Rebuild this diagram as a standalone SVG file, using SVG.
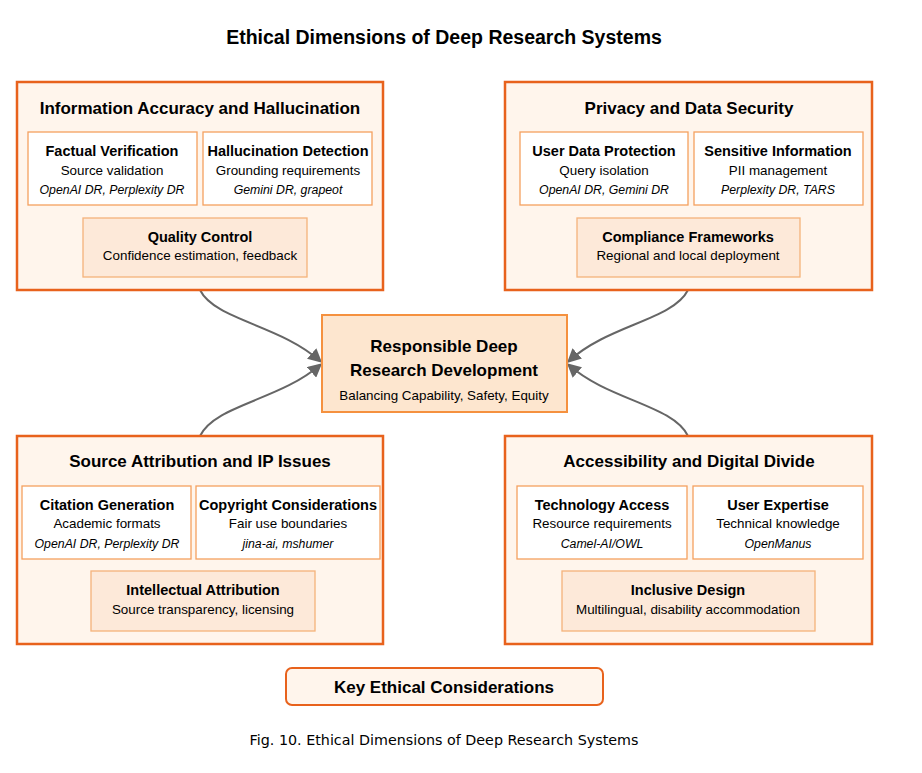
<svg xmlns="http://www.w3.org/2000/svg" width="922" height="773" viewBox="0 0 922 773">
<style>
text{font-family:"Liberation Sans",Arial,sans-serif;fill:#000;text-anchor:middle}
.outer{fill:#fff5ec;stroke:#e8621c;stroke-width:2.5}
.sub{fill:#fff;stroke:#f5a05f;stroke-width:1.3}
.sub2{fill:#fde9d9;stroke:#f5b27a;stroke-width:1.3}
.h{font-size:17px;font-weight:bold}
.t{font-size:14.5px;font-weight:bold}
.d{font-size:13.4px}
.i{font-size:12.3px;font-style:italic}
.c{fill:none;stroke:#666;stroke-width:2;marker-end:url(#a)}
</style>
<defs><marker id="a" viewBox="0 0 10 10" refX="8" refY="5" markerWidth="7" markerHeight="7" orient="auto"><path d="M0,0L10,5L0,10z" fill="#666"/></marker></defs>
<rect width="922" height="773" fill="#fff"/>
<text x="444" y="44" style="font-size:19.5px;font-weight:bold">Ethical Dimensions of Deep Research Systems</text>
<g id="connectors">
<path class="c" d="M200,290C215,320 280,325 320,361"/>
<path class="c" d="M200,436C215,405 280,400 320,365"/>
<path class="c" d="M688,290C673,320 608,325 569,361"/>
<path class="c" d="M688,436C673,405 608,400 569,365"/>
</g>
<g id="accuracy">
<rect class="outer" x="17" y="82" width="366" height="208"/>
<text class="h" x="200" y="114">Information Accuracy and Hallucination</text>
<rect class="sub" x="28" y="132" width="169" height="73"/>
<text class="t" x="112" y="156">Factual Verification</text><text class="d" x="112" y="175">Source validation</text><text class="i" x="112" y="194">OpenAI DR, Perplexity DR</text>
<rect class="sub" x="203" y="132" width="169" height="73"/>
<text class="t" x="288" y="156">Hallucination Detection</text><text class="d" x="288" y="175">Grounding requirements</text><text class="i" x="288" y="194">Gemini DR, grapeot</text>
<rect class="sub2" x="83" y="218" width="224" height="59"/>
<text class="t" x="200" y="242">Quality Control</text><text class="d" x="200" y="260">Confidence estimation, feedback</text>
</g>
<g id="privacy">
<rect class="outer" x="505" y="82" width="367" height="208"/>
<text class="h" x="689" y="114">Privacy and Data Security</text>
<rect class="sub" x="520" y="132" width="168" height="73"/>
<text class="t" x="604" y="156">User Data Protection</text><text class="d" x="604" y="175">Query isolation</text><text class="i" x="604" y="194">OpenAI DR, Gemini DR</text>
<rect class="sub" x="694" y="132" width="169" height="73"/>
<text class="t" x="778" y="156">Sensitive Information</text><text class="d" x="778" y="175">PII management</text><text class="i" x="778" y="194">Perplexity DR, TARS</text>
<rect class="sub2" x="577" y="218" width="223" height="59"/>
<text class="t" x="688" y="242">Compliance Frameworks</text><text class="d" x="688" y="260">Regional and local deployment</text>
</g>
<g id="center">
<rect x="322" y="315" width="245" height="97" fill="#fde6cf" stroke="#f5913f" stroke-width="2"/>
<text x="444" y="352" style="font-size:17px;font-weight:bold">Responsible Deep</text>
<text x="444" y="376" style="font-size:17px;font-weight:bold">Research Development</text>
<text class="d" x="444" y="400">Balancing Capability, Safety, Equity</text>
</g>
<g id="attribution">
<rect class="outer" x="17" y="436" width="366" height="208"/>
<text class="h" x="200" y="467">Source Attribution and IP Issues</text>
<rect class="sub" x="22" y="486" width="169" height="73"/>
<text class="t" x="107" y="510">Citation Generation</text><text class="d" x="107" y="528">Academic formats</text><text class="i" x="107" y="548">OpenAI DR, Perplexity DR</text>
<rect class="sub" x="196" y="486" width="184" height="73"/>
<text class="t" x="288" y="510">Copyright Considerations</text><text class="d" x="288" y="528">Fair use boundaries</text><text class="i" x="288" y="548">jina-ai, mshumer</text>
<rect class="sub2" x="91" y="571" width="224" height="60"/>
<text class="t" x="203" y="595">Intellectual Attribution</text><text class="d" x="203" y="614">Source transparency, licensing</text>
</g>
<g id="accessibility">
<rect class="outer" x="505" y="436" width="367" height="208"/>
<text class="h" x="689" y="467">Accessibility and Digital Divide</text>
<rect class="sub" x="517" y="486" width="170" height="73"/>
<text class="t" x="602" y="510">Technology Access</text><text class="d" x="602" y="528">Resource requirements</text><text class="i" x="602" y="548">Camel-AI/OWL</text>
<rect class="sub" x="693" y="486" width="170" height="73"/>
<text class="t" x="778" y="510">User Expertise</text><text class="d" x="778" y="528">Technical knowledge</text><text class="i" x="778" y="548">OpenManus</text>
<rect class="sub2" x="562" y="571" width="253" height="60"/>
<text class="t" x="688" y="595">Inclusive Design</text><text class="d" x="688" y="614">Multilingual, disability accommodation</text>
</g>
<g id="key">
<rect x="286" y="668" width="317" height="37" rx="6" fill="#fff5ec" stroke="#e8621c" stroke-width="2"/>
<text x="444" y="693" style="font-size:17px;font-weight:bold">Key Ethical Considerations</text>
</g>
<text x="444" y="745" style="font-family:'DejaVu Sans',sans-serif;font-size:14.3px">Fig. 10. Ethical Dimensions of Deep Research Systems</text>
</svg>
